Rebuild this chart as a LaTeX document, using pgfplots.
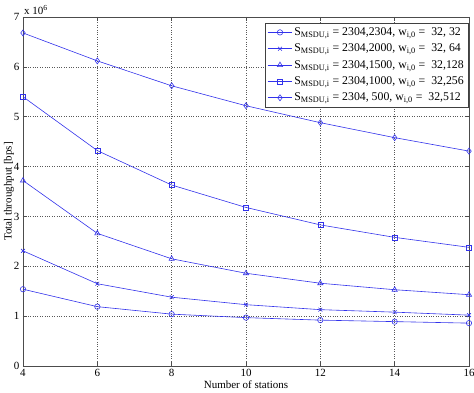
\documentclass[border=0pt]{standalone}
\usepackage{fontspec}
\setmainfont{Liberation Serif}
\usepackage{pgfplots}
\pgfplotsset{compat=1.18}
\definecolor{mb}{RGB}{50,50,235}
\begin{document}
\begin{tikzpicture}
\begin{axis}[name=ax, scale only axis, width=446pt, height=349pt,
  xmin=4, xmax=16, ymin=0, ymax=7,
  xtick={4,6,...,16}, ytick={0,1,...,7},
  grid=major, grid style={dotted, black!65, line width=0.6pt},
  tick align=inside, major tick length=4pt,
  axis line style={black!70, line width=0.7pt},
  tick style={black!70, line width=0.6pt},
  tick label style={font=\fontsize{11}{13}\selectfont},
  /pgf/number format/assume math mode=true,
  xlabel={Number of stations}, ylabel={Total throughput [bps]},
  label style={font=\fontsize{11}{13}\selectfont},
  xlabel style={yshift=3pt},
  ylabel style={yshift=-7pt},
  legend style={at={(rel axis cs:0.999,0.983)}, anchor=north east,
    font=\fontsize{11.8}{13}\selectfont, draw=black!75, line width=0.6pt,
    row sep=3pt, inner sep=2.5pt, cells={anchor=west}},
  legend cell align=left,
  legend image code/.code={\draw[#1] (0cm,0cm) -- (0.85cm,0cm); \draw[#1, mark repeat=2, mark phase=2] plot coordinates {(0cm,0cm) (0.425cm,0cm) (0.85cm,0cm)};},
]
\addplot[mb, line width=0.6pt, mark=o, mark size=2.7pt, mark options={solid}] coordinates {(4,1.54) (6,1.19) (8,1.04) (10,0.97) (12,0.92) (14,0.89) (16,0.86)};
\addlegendentry{S\textsubscript{MSDU,i} = 2304,2304, w\textsubscript{i,0} =\ \ 32, 32}
\addplot[mb, line width=0.6pt, mark=x, mark size=2.7pt, mark options={solid}] coordinates {(4,2.31) (6,1.65) (8,1.38) (10,1.23) (12,1.13) (14,1.08) (16,1.02)};
\addlegendentry{S\textsubscript{MSDU,i} = 2304,2000, w\textsubscript{i,0} =\ \ 32, 64}
\addplot[mb, line width=0.6pt, mark=triangle, mark size=3pt, mark options={solid}] coordinates {(4,3.72) (6,2.66) (8,2.15) (10,1.86) (12,1.66) (14,1.53) (16,1.43)};
\addlegendentry{S\textsubscript{MSDU,i} = 2304,1500, w\textsubscript{i,0} =\ \ 32,128}
\addplot[mb, line width=0.6pt, mark=square, mark size=2.5pt, mark options={solid}] coordinates {(4,5.40) (6,4.32) (8,3.63) (10,3.18) (12,2.83) (14,2.58) (16,2.38)};
\addlegendentry{S\textsubscript{MSDU,i} = 2304,1000, w\textsubscript{i,0} =\ \ 32,256}
\addplot[mb, line width=0.6pt, mark=diamond, mark size=3pt, mark options={solid}] coordinates {(4,6.68) (6,6.12) (8,5.62) (10,5.22) (12,4.88) (14,4.58) (16,4.31)};
\addlegendentry{S\textsubscript{MSDU,i} = 2304, 500, w\textsubscript{i,0} =\ \ 32,512}
\end{axis}
\node[anchor=south west, inner sep=0pt, font=\fontsize{11}{13}\selectfont] at ([shift={(1pt,2pt)}]ax.north west) {x 10\textsuperscript{6}};
\pgfresetboundingbox
\path ([shift={(-23pt,-27pt)}]ax.south west) rectangle ([shift={(5pt,17pt)}]ax.north east);
\end{tikzpicture}
\end{document}
